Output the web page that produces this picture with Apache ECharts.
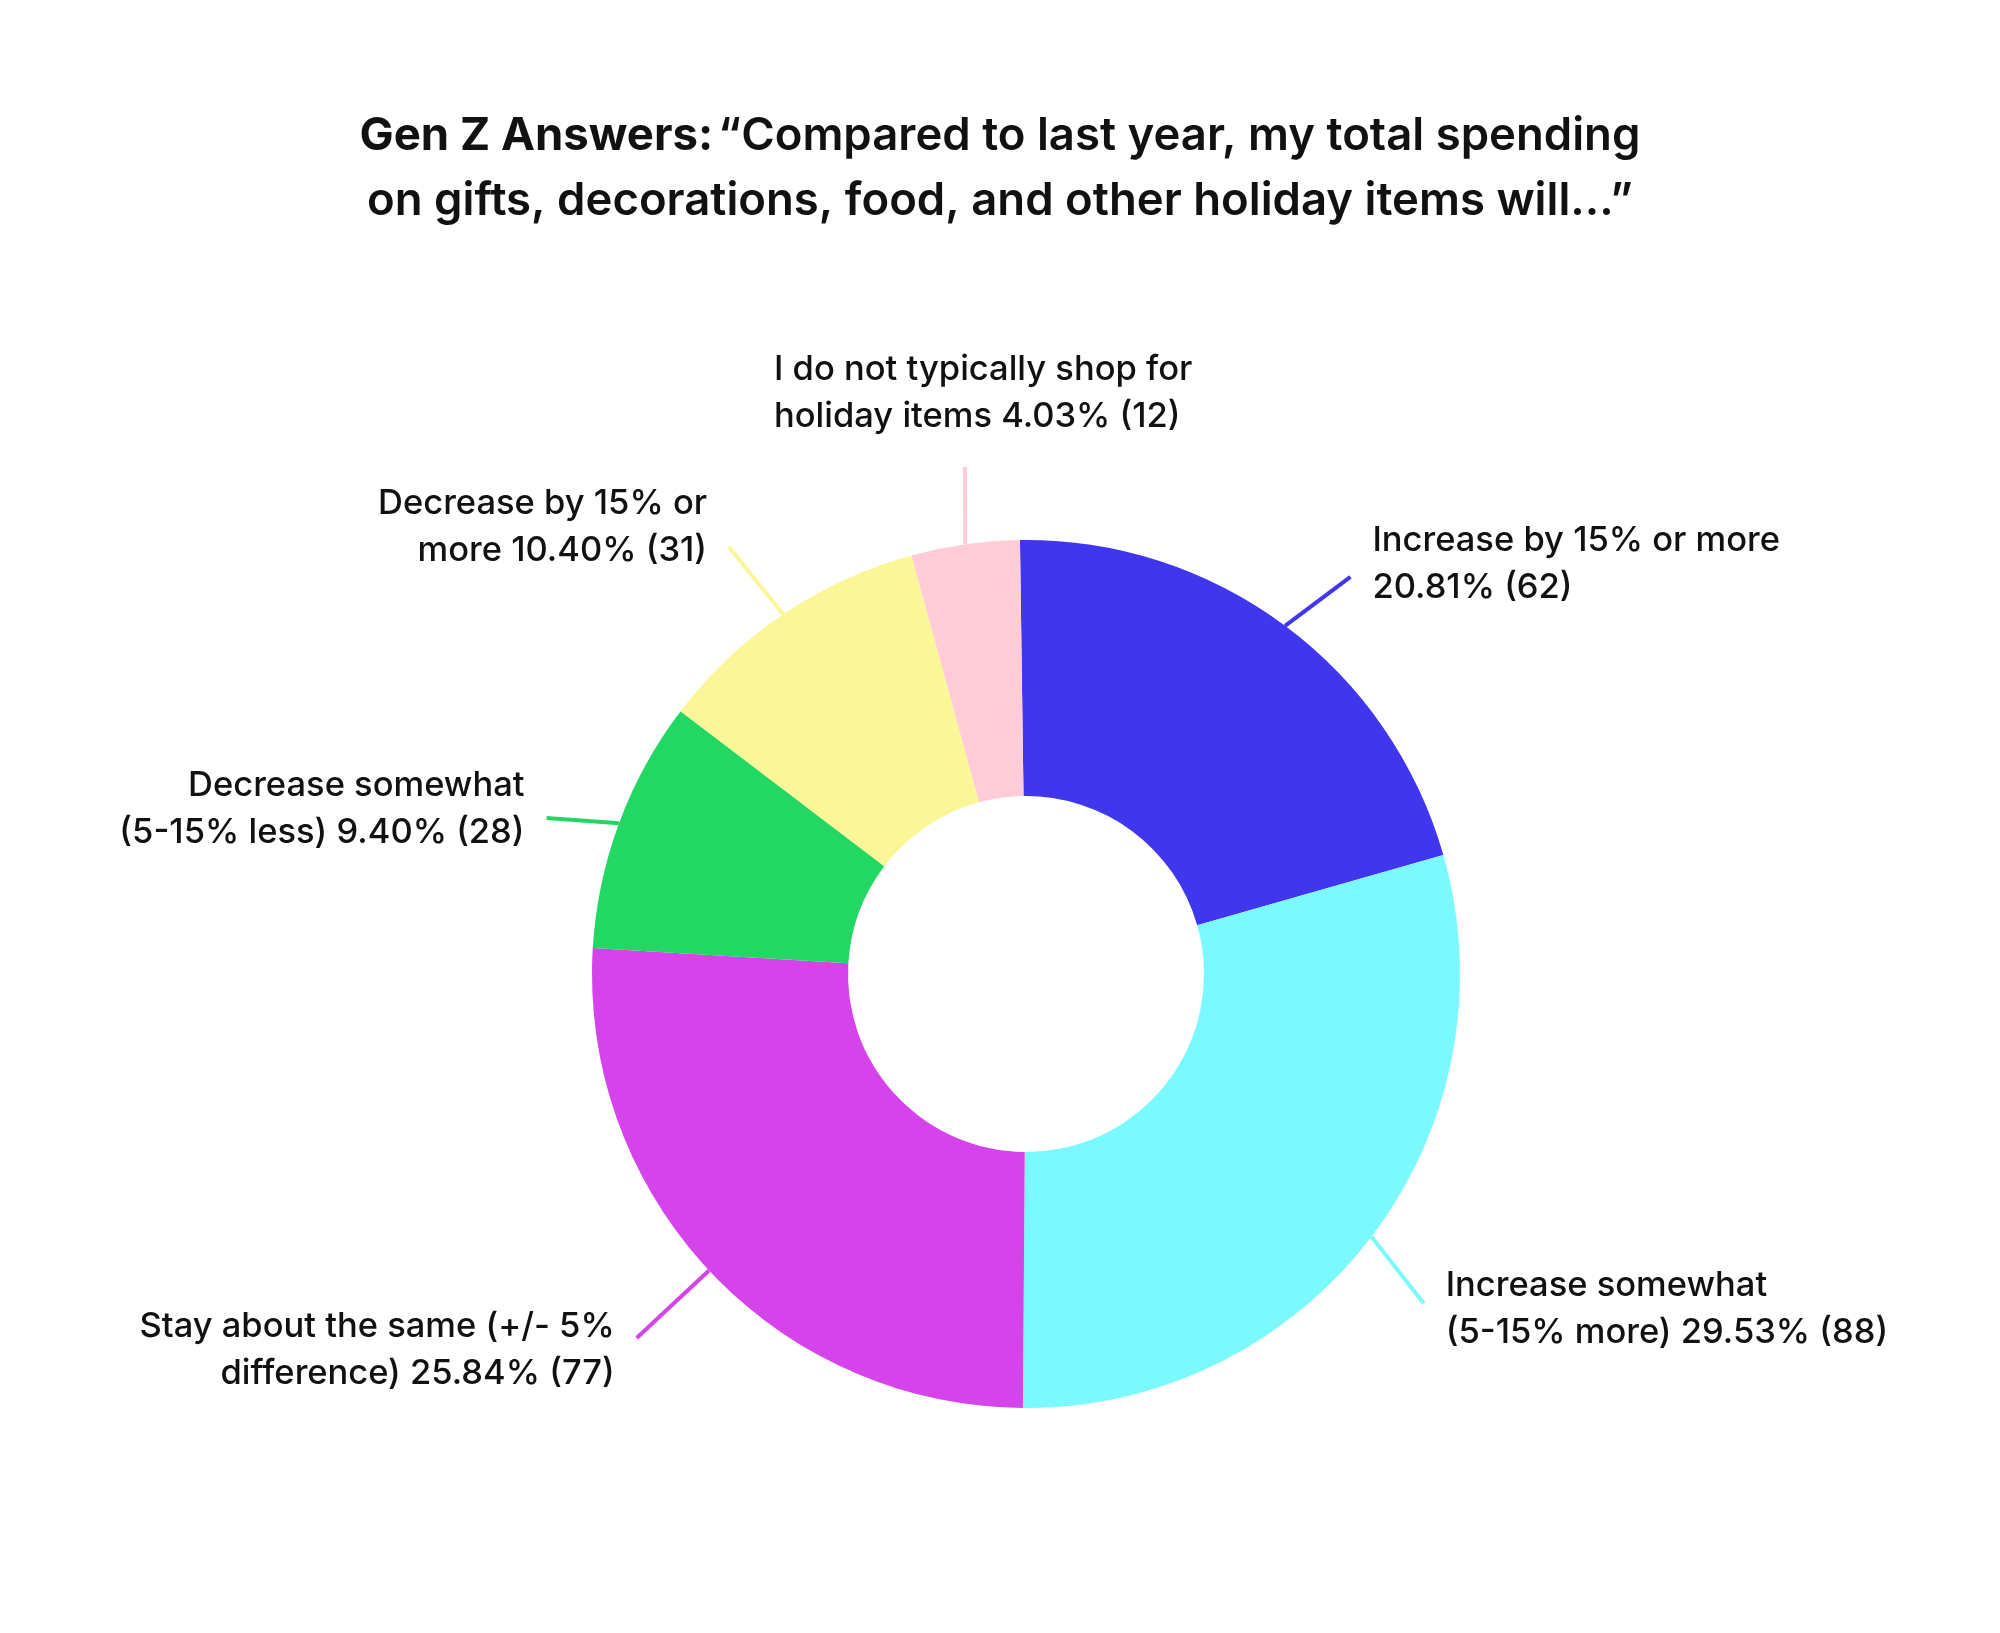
<!DOCTYPE html>
<html>
<head>
    <meta charset="utf-8">
    <title>Gen Z holiday spending</title>
    <style>
        html, body { margin: 0; padding: 0; background: #fff; }
        #main { width: 2000px; height: 1633px; }
    </style>
</head>
<body>
    <div id="main"></div>
    <script src="https://cdn.jsdelivr.net/npm/echarts@6/dist/echarts.min.js"></script>
    <script type="text/javascript">
    // answers, clockwise from 12 o'clock ('\n' = where the label wraps)
    var answers = [
        'Increase by 15% or more',
        'Increase somewhat\n(5-15% more)',
        'Stay about the same (+/- 5%\ndifference)',
        'Decrease somewhat\n(5-15% less)',
        'Decrease by 15% or\nmore',
        'I do not typically shop for\nholiday items'
    ];
    var counts = [62, 88, 77, 28, 31, 12];
    var shares = ['20.81', '29.53', '25.84', '9.40', '10.40', '4.03'];
    var colors = ['#4036EE', '#7AFAFF', '#D444EA', '#22D862', '#FBF798', '#FFCCD8'];

    // label line tweaks (px): line length, nudge of the line end, label offset from it
    var lineLen = [76, 82, 99, 72, 86, 73];
    var endDx = [20, -13, 0, -5, -6, 10];
    var endDy = [12, 17, 0, 20, 4, -5];
    var labelDy = [-13, 6, 12, -9, -20, -27];
    var GAP = 22;

    var pieData = [];
    for (var i = 0; i < answers.length; i++) {
        pieData.push({
            name: answers[i],
            value: counts[i],
            itemStyle: { color: colors[i] },
            labelLine: { length: lineLen[i] }
        });
    }

    var myChart = echarts.init(document.getElementById('main'));
    myChart.setOption({
        backgroundColor: '#fff',
        animation: false,
        title: {
            left: 'center',
            top: 99,
            text: '{b|Gen Z Answers:} {m|\u201cCompared to last year, my total spending}\n{m|on gifts, decorations, food, and other holiday items will\u2026\u201d}',
            textStyle: {
                rich: {
                    b: { fontFamily: 'Inter', fontWeight: 700, fontSize: 45.5, lineHeight: 65, color: '#111' },
                    m: { fontFamily: 'Inter', fontWeight: 600, fontSize: 45.5, lineHeight: 65, color: '#111' }
                }
            }
        },
        series: [{
            type: 'pie',
            center: [1026, 974],
            radius: [178, 434],
            startAngle: 90.8,
            clockwise: true,
            avoidLabelOverlap: false,
            emphasis: { disabled: true },
            label: {
                position: 'outside',
                fontFamily: 'Inter',
                fontWeight: 500,
                fontSize: 34.5,
                lineHeight: 47,
                color: '#111',
                distanceToLabelLine: GAP,
                formatter: function (p) {
                    var sep = p.name.indexOf('\n') >= 0 ? ' ' : '\n';
                    return p.name + sep + shares[p.dataIndex] + '% (' + p.value + ')';
                }
            },
            labelLine: {
                show: true,
                length: 80,
                length2: 0,
                lineStyle: { width: 4 }
            },
            labelLayout: function (p) {
                var pts = p.labelLinePoints;
                if (!pts) return {};
                var k = p.dataIndex;
                var start = pts[0];
                var last = pts[pts.length - 1];
                var end = [last[0] + endDx[k], last[1] + endDy[k]];
                var line = [start, end, end];
                if (k === answers.length - 1) {
                    // the small pink slice: label sits above its line, left aligned
                    return {
                        x: end[0] - 191,
                        y: end[1] + labelDy[k],
                        align: 'left',
                        verticalAlign: 'bottom',
                        labelLinePoints: line
                    };
                }
                var right = end[0] > start[0];
                return {
                    x: end[0] + (right ? GAP : -GAP),
                    y: end[1] + labelDy[k],
                    align: right ? 'left' : 'right',
                    verticalAlign: 'middle',
                    labelLinePoints: line
                };
            },
            data: pieData
        }]
    });
    </script>
</body>
</html>
